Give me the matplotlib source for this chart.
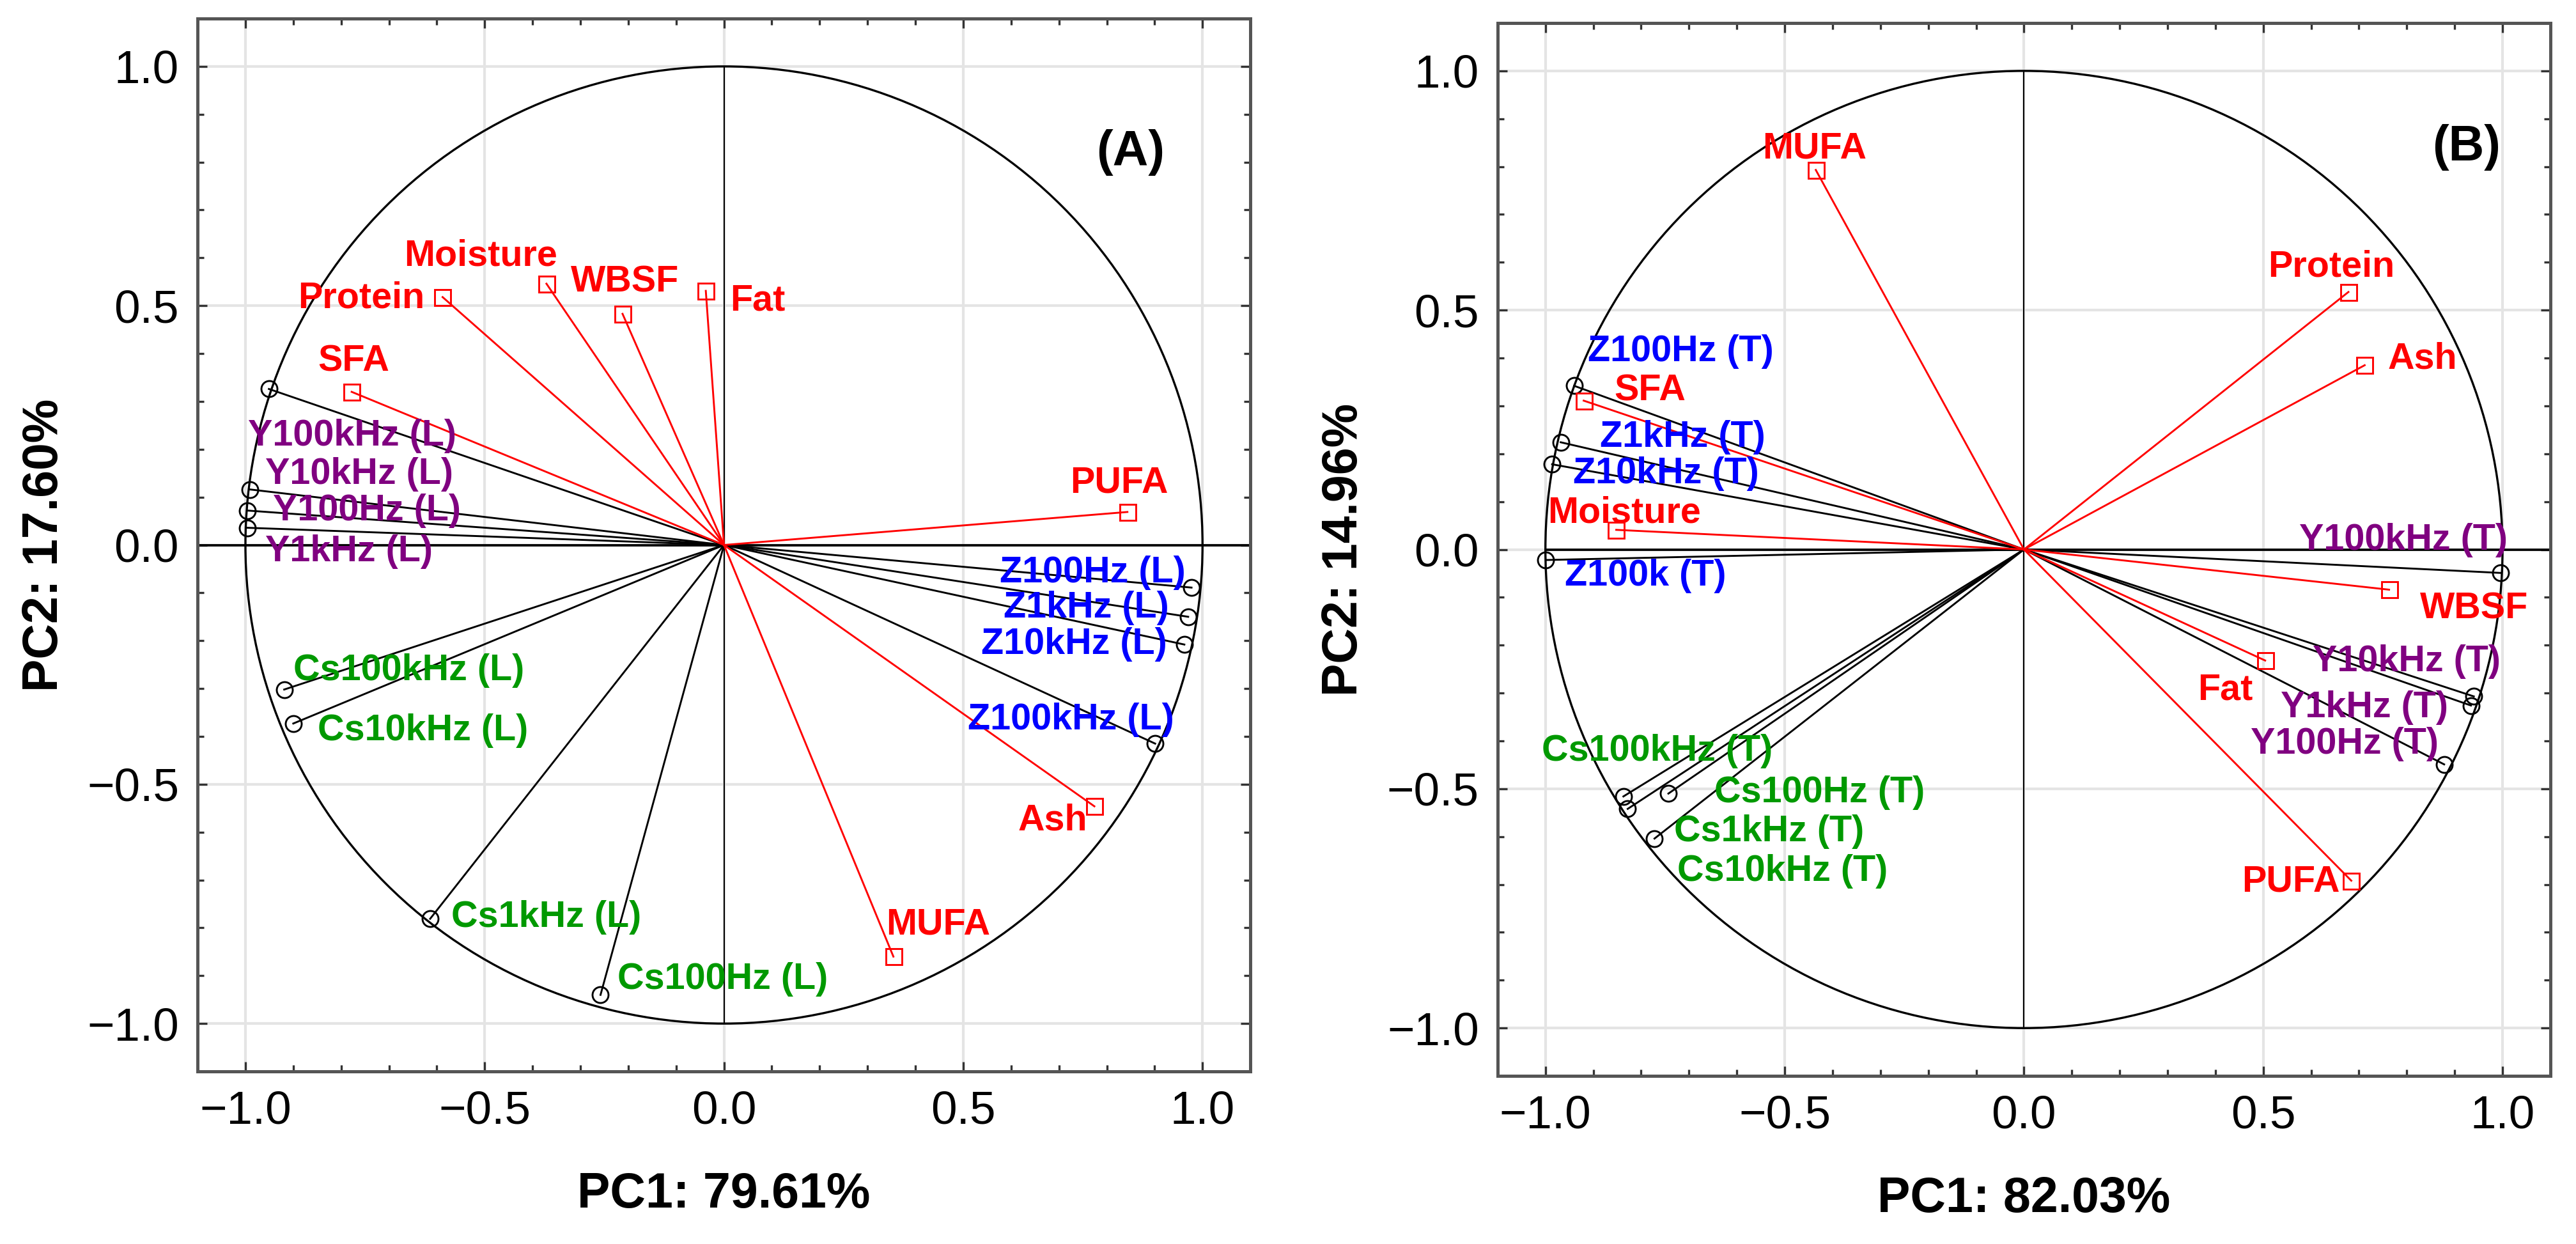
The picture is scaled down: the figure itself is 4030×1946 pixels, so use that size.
import matplotlib
matplotlib.use("Agg")
import matplotlib.pyplot as plt
from matplotlib.patches import Circle
from matplotlib.ticker import MultipleLocator

plt.rcParams['font.family'] = ['Liberation Sans', 'DejaVu Sans']

# ---- panel A: PCA loadings (L) ----
a_meas = ['Y100kHz (L)', 'Y10kHz (L)', 'Y100Hz (L)', 'Y1kHz (L)',
          'Z100Hz (L)', 'Z1kHz (L)', 'Z10kHz (L)', 'Z100kHz (L)',
          'Cs100kHz (L)', 'Cs10kHz (L)', 'Cs1kHz (L)', 'Cs100Hz (L)']
a_meas_x = [-0.951, -0.990, -0.996, -0.996, 0.977, 0.970, 0.962, 0.901,
            -0.919, -0.900, -0.614, -0.258]
a_meas_y = [0.326, 0.116, 0.072, 0.036, -0.089, -0.150, -0.208, -0.415,
            -0.302, -0.373, -0.781, -0.940]
a_prop = ['Protein', 'Moisture', 'WBSF', 'Fat', 'SFA', 'PUFA', 'Ash', 'MUFA']
a_prop_x = [-0.588, -0.371, -0.212, -0.038, -0.778, 0.843, 0.774, 0.354]
a_prop_y = [0.518, 0.546, 0.483, 0.531, 0.320, 0.069, -0.546, -0.860]

# ---- panel B: PCA loadings (T) ----
b_meas = ['Z100Hz (T)', 'Z1kHz (T)', 'Z10kHz (T)', 'Z100k (T)',
          'Y100kHz (T)', 'Y10kHz (T)', 'Y1kHz (T)', 'Y100Hz (T)',
          'Cs100kHz (T)', 'Cs100Hz (T)', 'Cs1kHz (T)', 'Cs10kHz (T)']
b_meas_x = [-0.940, -0.968, -0.986, -0.999, 0.996, 0.940, 0.934, 0.878,
            -0.837, -0.743, -0.828, -0.772]
b_meas_y = [0.342, 0.224, 0.178, -0.022, -0.049, -0.307, -0.326, -0.449,
            -0.516, -0.510, -0.542, -0.604]
b_prop = ['MUFA', 'Protein', 'Ash', 'SFA', 'Moisture', 'WBSF', 'Fat', 'PUFA']
b_prop_x = [-0.435, 0.678, 0.712, -0.920, -0.852, 0.763, 0.504, 0.684]
b_prop_y = [0.793, 0.538, 0.385, 0.311, 0.041, -0.084, -0.232, -0.692]

pc_labels = [('PC1: 79.61%', 'PC2: 17.60%'), ('PC1: 82.03%', 'PC2: 14.96%')]
panel_tags = ['(A)', '(B)']

# label placement: (dx, dy, ha) relative to the point, in data units
a_offsets = {
    'Y100kHz (L)': (-0.043, -0.098, 'left'), 'Y10kHz (L)': (0.032, 0.031, 'left'),
    'Y100Hz (L)': (0.053, -0.001, 'left'), 'Y1kHz (L)': (0.038, -0.050, 'left'),
    'Z100Hz (L)': (-0.012, 0.031, 'right'), 'Z1kHz (L)': (-0.040, 0.019, 'right'),
    'Z10kHz (L)': (-0.036, 0.0, 'right'), 'Z100kHz (L)': (0.040, 0.050, 'right'),
    'Cs100kHz (L)': (0.019, 0.040, 'left'), 'Cs10kHz (L)': (0.051, -0.015, 'left'),
    'Cs1kHz (L)': (0.044, 0.003, 'left'), 'Cs100Hz (L)': (0.035, 0.032, 'left'),
    'Protein': (-0.037, -0.002, 'right'), 'Moisture': (-0.297, 0.058, 'left'),
    'WBSF': (-0.108, 0.066, 'left'), 'Fat': (0.051, -0.021, 'left'),
    'SFA': (-0.071, 0.063, 'left'), 'PUFA': (-0.120, 0.061, 'left'),
    'Ash': (-0.015, -0.030, 'right'), 'MUFA': (-0.015, 0.067, 'left'),
}
b_offsets = {
    'Z100Hz (T)': (0.028, 0.071, 'left'), 'Z1kHz (T)': (0.082, 0.011, 'left'),
    'Z10kHz (T)': (0.044, -0.019, 'left'), 'Z100k (T)': (0.040, -0.033, 'left'),
    'Y100kHz (T)': (0.015, 0.069, 'right'), 'Y10kHz (T)': (0.056, 0.072, 'right'),
    'Y1kHz (T)': (-0.048, -0.004, 'right'), 'Y100Hz (T)': (-0.011, 0.042, 'right'),
    'Cs100kHz (T)': (-0.171, 0.094, 'left'), 'Cs100Hz (T)': (0.096, 0.002, 'left'),
    'Cs1kHz (T)': (0.097, -0.048, 'left'), 'Cs10kHz (T)': (0.048, -0.068, 'left'),
    'MUFA': (-0.112, 0.044, 'left'), 'Protein': (-0.168, 0.053, 'left'),
    'Ash': (0.048, 0.013, 'left'), 'SFA': (0.064, 0.020, 'left'),
    'Moisture': (-0.144, 0.035, 'left'), 'WBSF': (0.064, -0.040, 'left'),
    'Fat': (-0.141, -0.062, 'left'), 'PUFA': (-0.024, -0.003, 'right'),
}

RED = '#FF0000'
group_colors = {'Y': '#800080', 'Z': '#0000FF', 'C': '#009900'}


def draw_panel(ax, meas, mx, my, prop, px, py, offsets, xlab, ylab, tag, tag_xy, hline_from):
    ax.set_xlim(-1.1, 1.1)
    ax.set_ylim(-1.1, 1.1)
    ax.set_aspect('equal', adjustable='box')
    ax.xaxis.set_major_locator(MultipleLocator(0.5))
    ax.yaxis.set_major_locator(MultipleLocator(0.5))
    ax.xaxis.set_minor_locator(MultipleLocator(0.1))
    ax.yaxis.set_minor_locator(MultipleLocator(0.1))
    ax.grid(True, which='major', color='#E4E4E4', lw=1.0, zorder=0)
    ax.set_axisbelow(True)
    ax.tick_params(which='both', direction='in', top=True, right=True,
                   color='#333333', width=0.8, labelsize=17.5, pad=7)
    ax.tick_params(which='major', length=3.5)
    ax.tick_params(which='minor', length=2.5)
    for s in ax.spines.values():
        s.set_color('#555555')
        s.set_linewidth(1.2)

    ax.add_patch(Circle((0, 0), 1.0, fill=False, ec='black', lw=0.8, zorder=2))
    ax.plot([hline_from, 1.1], [0, 0], color='black', lw=0.9, zorder=2)
    ax.plot([0, 0], [-1, 1], color='black', lw=0.5, zorder=2)

    for name, x, y in zip(meas, mx, my):
        ax.plot([0, x], [0, y], color='black', lw=0.7, zorder=3)
        ax.plot(x, y, 'o', ms=6, mfc='none', mec='black', mew=0.7, zorder=4)
        dx, dy, ha = offsets[name]
        ax.text(x + dx, y + dy, name, ha=ha, va='center', fontsize=13.8,
                fontweight='bold', color=group_colors[name[0]], zorder=5)
    for name, x, y in zip(prop, px, py):
        ax.plot([0, x], [0, y], color=RED, lw=0.7, zorder=3)
        ax.plot(x, y, 's', ms=6, mfc='none', mec=RED, mew=0.7, zorder=4)
        dx, dy, ha = offsets[name]
        ax.text(x + dx, y + dy, name, ha=ha, va='center', fontsize=13.8,
                fontweight='bold', color=RED, zorder=5)

    ax.text(0.5, -0.117, xlab, transform=ax.transAxes, ha='center', va='center',
            fontsize=18.5, fontweight='bold')
    ax.text(-0.1457, 0.5, ylab, transform=ax.transAxes, ha='center', va='center',
            rotation=90, fontsize=18.5, fontweight='bold')
    ax.text(tag_xy[0], tag_xy[1], tag, ha='center', va='center', fontsize=18.5,
            fontweight='bold', color='black', zorder=5)


fig = plt.figure(figsize=(4030 / 300, 1946 / 300), dpi=300)
ax_a = fig.add_axes([0.0767, 0.1387, 0.4087, 0.8464])
ax_b = fig.add_axes([0.5811, 0.1351, 0.4092, 0.8464])

draw_panel(ax_a, a_meas, a_meas_x, a_meas_y, a_prop, a_prop_x, a_prop_y,
           a_offsets, pc_labels[0][0], pc_labels[0][1], panel_tags[0],
           (0.85, 0.82), -1.1)
draw_panel(ax_b, b_meas, b_meas_x, b_meas_y, b_prop, b_prop_x, b_prop_y,
           b_offsets, pc_labels[1][0], pc_labels[1][1], panel_tags[1],
           (0.925, 0.84), -1.0)

fig.savefig('out.png', dpi=300, facecolor='white')
